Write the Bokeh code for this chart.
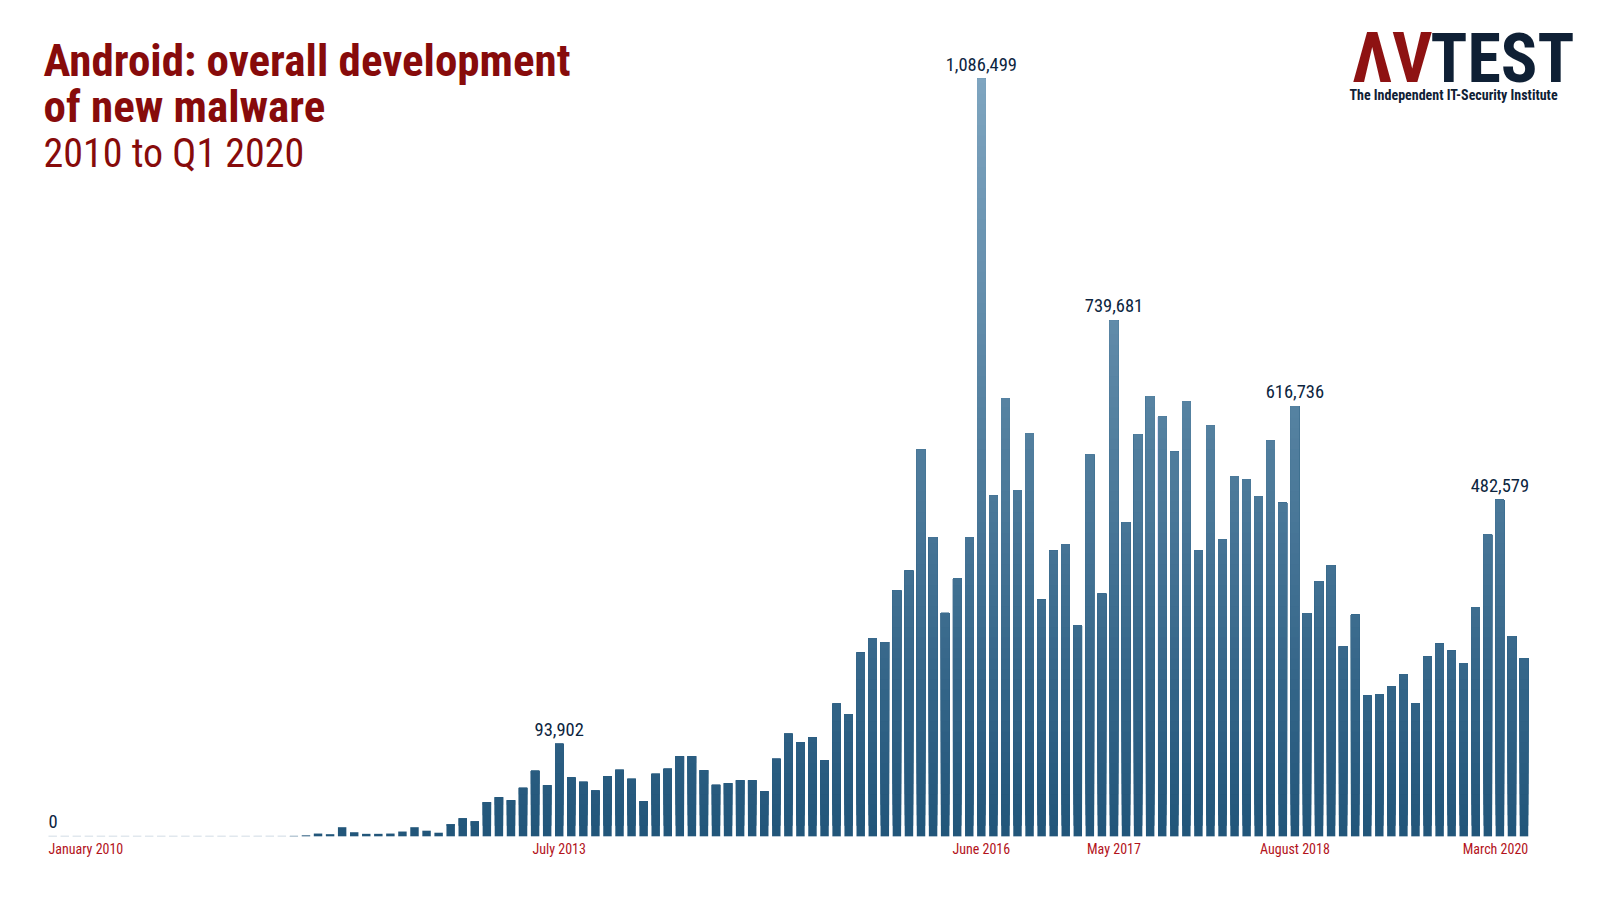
import numpy as np
from bokeh.plotting import figure
from bokeh.models import ColumnDataSource, Range1d, Label
from bokeh.core.properties import value, field
from bokeh.embed import file_html
from bokeh.resources import INLINE

# ---------------- data (monthly new Android malware, Jan 2010 .. Mar 2020) ----------------
new_malware = [
    0, 0, 0, 0, 0, 0, 0, 0, 0, 0, 0, 0,                                   # 2010
    0, 0, 0, 0, 0, 0, 0, 0, 400, 1200, 3800, 2900,                        # 2011
    12900, 5700, 3400, 3400, 3800, 6700, 12900, 7900, 5000, 17200, 25800, 21500,   # 2012
    48800, 56000, 51700, 69400, 93800, 73200, 132500, 84200, 78000, 65500, 86100, 95200,  # 2013
    82300, 50200, 89500, 96700, 114800, 114800, 94700, 73700, 76000, 80300, 80300, 64600,  # 2014
    111000, 146900, 134900, 142000, 108600, 189900, 175000, 263000, 284300, 278500, 352500, 380800,  # 2015
    554500, 429000, 320300, 370200, 429000, 1086499, 488500, 628200, 496400, 578000, 339200, 409500,  # 2016
    419000, 302400, 547500, 347800, 739681, 450500, 576200, 631000, 602000, 551400, 624000, 410000,  # 2017
    589000, 426000, 516400, 511700, 487300, 567600, 478200, 616736, 320000, 365500, 388400, 272300,  # 2018
    317700, 201600, 203500, 215000, 232700, 191000, 257500, 276100, 266100, 248500, 328700, 432900,  # 2019
    482579, 287100, 255100,                                               # 2020 Q1
]

value_label_index = [0, 42, 77, 88, 103, 120]
value_label_text = ["0", "93,902", "1,086,499", "739,681", "616,736", "482,579"]

tick_index = [0, 42, 77, 88, 103, 122]
tick_labels = ["January 2010", "July 2013", "June 2016", "May 2017", "August 2018", "March 2020"]

title_lines = ["Android: overall development", "of new malware", "2010 to Q1 2020"]

# ---------------- layout / style ----------------
W, H = 1584, 884
X0 = 52.2        # picture x of the first bar's centre
PITCH = 12.06    # px per month
BASE_Y = 835.7   # picture y of the zero line
VPP = 1434.5     # value per pixel
BAR_W = 0.70
FIX = 0.36       # baseline correction (em) observed for this renderer

FONT_N = "Roboto Condensed, Noto Sans Condensed, DejaVu Sans Condensed, Roboto"
TITLE_RED = "#870b0b"
TICK_RED = "#b3131b"
NAVY = "#0c2540"

n = len(new_malware)
idx = np.arange(n)

p = figure(width=W, height=H,
           x_range=Range1d((0 - X0) / PITCH, (W - X0) / PITCH),
           y_range=Range1d(-(H - BASE_Y) * VPP, BASE_Y * VPP),
           output_backend="svg", toolbar_location=None,
           x_axis_type=None, y_axis_type=None, min_border=0)
p.outline_line_color = None
p.background_fill_color = "white"
p.border_fill_color = "white"

# light baseline dashes under every month
p.segment(x0=idx - BAR_W / 2, x1=idx + BAR_W / 2, y0=0, y1=0,
          line_color="#e1e8ee", line_width=1.6)

# vertical gradient bars (absolute gradient, drawn as stacked bands)
BAND = 15000
c_lo = np.array([0x21, 0x55, 0x7a], dtype=float)
c_hi = np.array([0x80, 0xa6, 0xc1], dtype=float)
GRAD_TOP = 1100000.0
bx, bb, bt, bc = [], [], [], []
vals = np.array(new_malware, dtype=float)
nb = int(np.ceil(vals.max() / BAND))
for k in range(nb):
    lo = k * BAND
    f = min(1.0, (lo + BAND / 2) / GRAD_TOP)
    c = c_lo + (c_hi - c_lo) * f
    col = "#%02x%02x%02x" % tuple(int(round(t)) for t in c)
    for i, v in enumerate(vals):
        if v > lo:
            bx.append(i); bb.append(lo); bt.append(v); bc.append(col)
bars = ColumnDataSource(dict(x=bx, bottom=bb, top=bt, color=bc))
p.vbar(x="x", bottom="bottom", top="top", width=BAR_W, source=bars,
       fill_color="color", line_color=None)

def aligned_x(i, k, total):
    if k == 0:
        return i - BAR_W / 2, "left"
    if k == total - 1 and i == n - 1:
        return i + BAR_W / 2, "right"
    return i, "center"

# value labels
VAL_SIZE = 18.5
lx, la = [], []
for k, i in enumerate(value_label_index):
    x, a = aligned_x(i, k, len(value_label_index))
    lx.append(x); la.append(a)
vsrc = ColumnDataSource(dict(x=lx, y=[new_malware[i] for i in value_label_index],
                             text=value_label_text, align=la))
p.text(x="x", y="y", text="text", source=vsrc, text_align=field("align"),
       text_baseline="alphabetic", y_offset=-8 - FIX * VAL_SIZE, text_font=value(FONT_N),
       text_font_size=f"{VAL_SIZE}px", text_color=NAVY)

# month labels
TICK_SIZE = 14
tx, ta = [], []
for k, i in enumerate(tick_index):
    x, a = aligned_x(i, k, len(tick_index))
    tx.append(x); ta.append(a)
tsrc = ColumnDataSource(dict(x=tx, y=[0] * len(tick_index), text=tick_labels, align=ta))
p.text(x="x", y="y", text="text", source=tsrc, text_align=field("align"),
       text_baseline="alphabetic", y_offset=18 - FIX * TICK_SIZE, text_font=value(FONT_N),
       text_font_size=f"{TICK_SIZE}px", text_color=TICK_RED)

def put(txt, x, base, size, style, color, align="left"):
    p.add_layout(Label(x=x, y=H - (base - FIX * size), x_units="screen", y_units="screen",
                       text=txt, text_font=FONT_N, text_font_style=style,
                       text_font_size=f"{size}px", text_color=color,
                       text_align=align, text_baseline="alphabetic"))

put(title_lines[0], 43, 76.5, 45, "bold", TITLE_RED)
put(title_lines[1], 43, 122.5, 45, "bold", TITLE_RED)
put(title_lines[2], 43, 167, 40, "normal", TITLE_RED)

put("ΛV", 1432, 83, 70, "bold", "#8e1212", "right")
put("TEST", 1430, 83, 68, "bold", "#0f2035", "left")
put("The Independent IT-Security Institute", 1453, 99.5, 14, "bold", "#0f2035", "center")

open("out.html", "w").write(file_html(p, INLINE))
